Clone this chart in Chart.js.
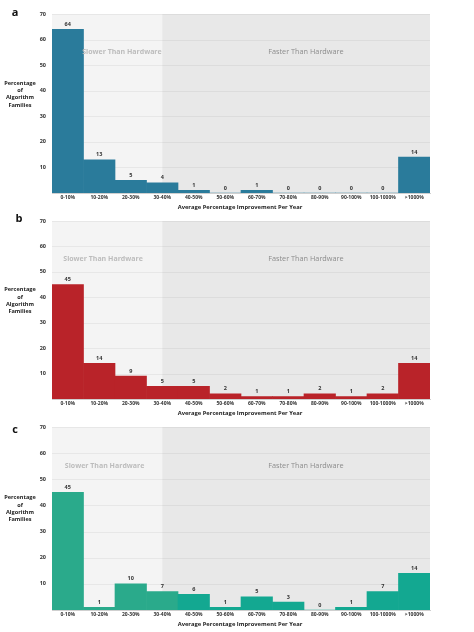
<!DOCTYPE html>
<html>
<head>
<meta charset="utf-8">
<script src="https://cdn.jsdelivr.net/npm/chart.js@4.4.1/dist/chart.umd.min.js"></script>
<style>
  html, body { margin: 0; padding: 0; background: #fff; }
  body { width: 474px; height: 632px; position: relative; overflow: hidden; }
  canvas { position: absolute; left: 0; }
</style>
</head>
<body>
<canvas id="chartA"></canvas>
<canvas id="chartB"></canvas>
<canvas id="chartC"></canvas>
<script>
// data
const categories = ['0-10%', '10-20%', '20-30%', '30-40%', '40-50%', '50-60%',
  '60-70%', '70-80%', '80-90%', '90-100%', '100-1000%', '>1000%'];
const seriesA = [64, 13, 5, 4, 1, 0, 1, 0, 0, 0, 0, 14];
const seriesB = [45, 14, 9, 5, 5, 2, 1, 1, 2, 1, 2, 14];
const seriesC = [45, 1, 10, 7, 6, 1, 5, 3, 0, 1, 7, 14];
const yTicks = [10, 20, 30, 40, 50, 60, 70];
const yTitleLines = ['Percentage', 'of', 'Algorithm', 'Families'];
const xTitle = 'Average Percentage Improvement Per Year';
const slowerText = 'Slower Than Hardware';
const fasterText = 'Faster Than Hardware';

const FONT = "'Open Sans', sans-serif";

// page layout for each panel (plot area top / bottom in page px)
const panels = [
  { id: 'chartA', letter: 'a', data: seriesA, areaTop: 13.5, areaBottom: 192,
    color: '#2a7b9b', letterX: 15, letterY: 12, slowerAt: 1.72 },
  { id: 'chartB', letter: 'b', data: seriesB, areaTop: 221, areaBottom: 399,
    color: '#b92329', letterX: 19, letterY: 219, slowerAt: 1.12 },
  { id: 'chartC', letter: 'c', data: seriesC, areaTop: 427, areaBottom: 610,
    color: ['#2aaa8b', '#2aaa8b', '#2aaa8b', '#2aaa8b', '#13a891', '#13a891',
            '#13a891', '#13a891', '#13a891', '#13a891', '#13a891', '#13a891'],
    letterX: 15, letterY: 430, slowerAt: 1.17 }
];

const PAD_TOP = 16;
const X_AXIS_H = 24;

const decorPlugin = {
  id: 'decor',
  beforeDatasetsDraw(chart) {
    // two shaded zones behind the bars
    const { ctx, chartArea: a, scales: { x } } = chart;
    const split = x.getPixelForValue(3);
    ctx.save();
    ctx.fillStyle = '#f4f4f4';
    ctx.fillRect(a.left, a.top, split - a.left, a.bottom - a.top);
    ctx.fillStyle = '#e8e8e8';
    ctx.fillRect(split, a.top, a.right - split, a.bottom - a.top);
    // grid lines on top of the shading
    ctx.strokeStyle = 'rgba(0,0,0,0.05)';
    ctx.lineWidth = 1;
    chart.scales.y.ticks.forEach(t => {
      const py = Math.round(chart.scales.y.getPixelForValue(t.value)) + 0.5;
      ctx.beginPath();
      ctx.moveTo(a.left, py);
      ctx.lineTo(a.right, py);
      ctx.stroke();
    });
    ctx.restore();
  },
  afterDatasetsDraw(chart, args, opts) {
    const { ctx, chartArea: a, scales: { x, y } } = chart;
    const p = opts.panel;
    const top = p.areaTop - PAD_TOP;
    ctx.save();
    ctx.textAlign = 'center';
    ctx.textBaseline = 'middle';

    // zone captions
    ctx.font = 'bold 7px ' + FONT;
    ctx.fillStyle = '#bcbcbc';
    ctx.fillText(slowerText, x.getPixelForValue(p.slowerAt), y.getPixelForValue(55));
    ctx.font = '7.3px ' + FONT;
    ctx.fillStyle = '#8c8c8c';
    ctx.fillText(fasterText, x.getPixelForValue(7.56), y.getPixelForValue(55));

    // value labels
    ctx.font = 'bold 5.5px ' + FONT;
    ctx.fillStyle = '#333';
    chart.getDatasetMeta(0).data.forEach((el, i) => {
      ctx.fillText(String(p.data[i]), el.x, el.y - 5);
    });

    // y title
    ctx.font = 'bold 5.6px ' + FONT;
    ctx.fillStyle = '#222';
    const y0 = y.getPixelForValue(43);
    yTitleLines.forEach((s, i) => ctx.fillText(s, 20, y0 + i * 7.4));

    // x title
    ctx.font = 'bold 5.8px ' + FONT;
    ctx.fillText(xTitle, 240, a.bottom + 14);

    // panel letter
    ctx.font = 'bold 11px ' + FONT;
    ctx.fillStyle = '#111';
    ctx.fillText(p.letter, p.letterX, p.letterY - top);
    ctx.restore();
  }
};

panels.forEach(p => {
  const cv = document.getElementById(p.id);
  const h = Math.round(p.areaBottom - p.areaTop + PAD_TOP + X_AXIS_H);
  cv.width = 474;
  cv.height = h;
  cv.style.top = (p.areaTop - PAD_TOP) + 'px';

  new Chart(cv, {
    type: 'bar',
    data: {
      labels: categories,
      datasets: [{
        data: p.data,
        backgroundColor: p.color,
        borderWidth: 0,
        barPercentage: 1,
        categoryPercentage: 1
      }]
    },
    options: {
      responsive: false,
      animation: false,
      devicePixelRatio: 1,
      layout: { padding: { top: PAD_TOP, right: 44, left: 0, bottom: 0 } },
      plugins: {
        legend: { display: false },
        tooltip: { enabled: false },
        decor: { panel: p }
      },
      scales: {
        x: {
          grid: { display: false, drawTicks: false },
          border: { display: true, color: '#cfcfcf' },
          ticks: {
            color: '#333', padding: 2, maxRotation: 0, autoSkip: false,
            font: { family: FONT, size: 5, weight: 'bold' }
          },
          afterFit(s) { s.height = X_AXIS_H; }
        },
        y: {
          min: 0, max: 70,
          grid: { display: false, drawTicks: false },
          border: { display: false },
          ticks: {
            color: '#333', padding: 6,
            font: { family: FONT, size: 5.5, weight: 'bold' }
          },
          afterBuildTicks(s) { s.ticks = yTicks.map(v => ({ value: v })); },
          afterFit(s) { s.width = 52; }
        }
      }
    },
    plugins: [decorPlugin]
  });
});
</script>
</body>
</html>
